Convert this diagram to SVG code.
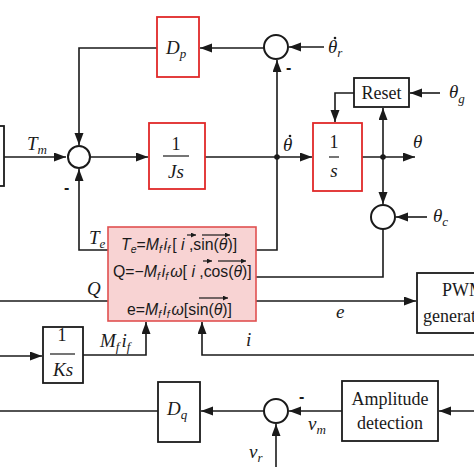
<svg xmlns="http://www.w3.org/2000/svg" width="474" height="474" viewBox="0 0 474 474">
<style>
.ln{fill:none;stroke:#1a1a1a;stroke-width:1.6}
.blk{fill:#fff;stroke:#1a1a1a;stroke-width:1.8}
.red{fill:#fff;stroke:#e02828;stroke-width:1.8}
.sum{fill:#fff;stroke:#1a1a1a;stroke-width:2}
.m{font-family:"Liberation Serif",serif;font-style:italic;font-size:19px;fill:#1a1a1a}
.sub{font-size:13px}
.r{font-family:"Liberation Serif",serif;font-size:18px;fill:#1a1a1a}
.f{font-family:"Liberation Sans",sans-serif;font-size:15.8px;fill:#1a1a1a}
.fi{font-style:italic}
.fs{font-style:italic;font-size:10.5px}
.vec{fill:none;stroke:#1a1a1a;stroke-width:1.2}
.neg{font-family:"Liberation Sans",sans-serif;font-weight:bold;font-size:16px;fill:#1a1a1a}
</style>
<defs>
<marker id="a" markerUnits="userSpaceOnUse" markerWidth="13" markerHeight="10" refX="12" refY="4.5" orient="auto">
<path d="M0,0 L12,4.5 L0,9 z" fill="#1a1a1a"/>
</marker>
<marker id="v" markerUnits="userSpaceOnUse" markerWidth="6" markerHeight="6" refX="5" refY="2.5" orient="auto">
<path d="M0,0 L5,2.5 L0,5 z" fill="#1a1a1a"/>
</marker>
</defs>

<g id="connectors">
<path class="ln" d="M4,157 H66" marker-end="url(#a)"/>
<path class="ln" d="M157,48 H79 V145" marker-end="url(#a)"/>
<path class="ln" d="M108,250 H79 V169" marker-end="url(#a)"/>
<path class="ln" d="M90,157 H148" marker-end="url(#a)"/>
<path class="ln" d="M205,157 H312" marker-end="url(#a)"/>
<path class="ln" d="M256,250 H277 V60" marker-end="url(#a)"/>
<path class="ln" d="M324,47 H289" marker-end="url(#a)"/>
<path class="ln" d="M264,48 H200" marker-end="url(#a)"/>
<path class="ln" d="M354,93 H335 V122" marker-end="url(#a)"/>
<path class="ln" d="M440,93 H410" marker-end="url(#a)"/>
<path class="ln" d="M362,157 H415" marker-end="url(#a)"/>
<path class="ln" d="M383,157 V108" marker-end="url(#a)"/>
<path class="ln" d="M383,157 V204" marker-end="url(#a)"/>
<path class="ln" d="M427,217 H396" marker-end="url(#a)"/>
<path class="ln" d="M383,229 V277 H256"/>
<path class="ln" d="M108,301 H0"/>
<path class="ln" d="M256,301 H416" marker-end="url(#a)"/>
<path class="ln" d="M474,355 H202 V322" marker-end="url(#a)"/>
<path class="ln" d="M0,356 H42" marker-end="url(#a)"/>
<path class="ln" d="M83,355 H146 V322" marker-end="url(#a)"/>
<path class="ln" d="M158,411 H0"/>
<path class="ln" d="M264,411 H201" marker-end="url(#a)"/>
<path class="ln" d="M342,411 H289" marker-end="url(#a)"/>
<path class="ln" d="M474,411 H439" marker-end="url(#a)"/>
<path class="ln" d="M276,467 V424" marker-end="url(#a)"/>
<circle cx="277" cy="157" r="2.8" fill="#1a1a1a"/>
<circle cx="383" cy="157" r="2.8" fill="#1a1a1a"/>
</g>

<g id="left_block"><rect class="blk" x="-50" y="126" width="54" height="60"/></g>

<g id="sum1"><circle class="sum" cx="79" cy="157" r="11"/></g>
<g id="sum2"><circle class="sum" cx="276" cy="47" r="12"/></g>
<g id="sum3"><circle class="sum" cx="383" cy="217" r="12"/></g>
<g id="sum4"><circle class="sum" cx="276" cy="411" r="12"/></g>

<g id="Dp"><rect class="red" x="157" y="17" width="42" height="60"/>
<text class="m" x="166" y="54">D<tspan class="sub" dy="4">p</tspan></text></g>

<g id="Js"><rect class="red" x="149" y="123" width="56" height="66"/>
<text class="r" x="176" y="150" text-anchor="middle">1</text>
<line class="vec" x1="163" y1="156" x2="189" y2="156"/>
<text class="m" x="176" y="178" text-anchor="middle">Js</text></g>

<g id="integ"><rect class="red" x="313" y="123" width="49" height="68"/>
<text class="r" x="334" y="148" text-anchor="middle">1</text>
<line class="vec" x1="329" y1="157" x2="339" y2="157"/>
<text class="m" x="334" y="177" text-anchor="middle">s</text></g>

<g id="reset"><rect class="blk" x="354" y="78" width="55" height="29"/>
<text class="r" x="381.5" y="99" text-anchor="middle">Reset</text></g>

<g id="calc"><rect x="108" y="227" width="148" height="94" fill="#f8d3d3" stroke="#e05050" stroke-width="1.6"/>
<text class="f" x="121" y="250"><tspan class="fi">T</tspan><tspan class="fs" dy="3">e</tspan><tspan dy="-3">=</tspan><tspan class="fi">M</tspan><tspan class="fs" dy="3">f</tspan><tspan class="fi" dx="2" dy="-3">i</tspan><tspan class="fs" dy="3">f</tspan><tspan dx="2" dy="-3">[ </tspan><tspan class="fi">i</tspan><tspan> ,sin(</tspan><tspan class="fi">θ</tspan><tspan>)]</tspan></text>
<path class="vec" d="M187,235 H196" marker-end="url(#v)"/>
<path class="vec" d="M202,235 H230" marker-end="url(#v)"/>
<text class="f" x="113" y="277">Q=−<tspan class="fi">M</tspan><tspan class="fs" dy="3">f</tspan><tspan class="fi" dx="2" dy="-3">i</tspan><tspan class="fs" dy="3">f</tspan><tspan class="fi" dx="2" dy="-3">ω</tspan><tspan>[ </tspan><tspan class="fi">i</tspan><tspan> ,cos(</tspan><tspan class="fi">θ</tspan><tspan>)]</tspan></text>
<path class="vec" d="M203,261 H212" marker-end="url(#v)"/>
<path class="vec" d="M218,261 H246" marker-end="url(#v)"/>
<text class="f" x="127" y="315">e=<tspan class="fi">M</tspan><tspan class="fs" dy="3">f</tspan><tspan class="fi" dx="2" dy="-3">i</tspan><tspan class="fs" dy="3">f</tspan><tspan class="fi" dx="2" dy="-3">ω</tspan><tspan>[sin(</tspan><tspan class="fi">θ</tspan><tspan>)]</tspan></text>
<path class="vec" d="M199,298 H228" marker-end="url(#v)"/>
</g>

<g id="pwm"><rect class="blk" x="417" y="273" width="80" height="60"/>
<text class="r" x="442" y="296">PWM</text>
<text class="r" x="423" y="322">generator</text></g>

<g id="Ks"><rect class="blk" x="43" y="327" width="40" height="56"/>
<text class="r" x="62" y="341" text-anchor="middle">1</text>
<line class="vec" x1="50" y1="354" x2="75" y2="354"/>
<text class="m" x="63" y="376" text-anchor="middle">Ks</text></g>

<g id="Dq"><rect class="blk" x="158" y="382" width="42" height="60"/>
<text class="m" x="167" y="415">D<tspan class="sub" dy="4">q</tspan></text></g>

<g id="amp"><rect class="blk" x="342" y="381" width="96" height="60"/>
<text class="r" x="390" y="405" text-anchor="middle">Amplitude</text>
<text class="r" x="390" y="429" text-anchor="middle">detection</text></g>

<g id="labels">
<text class="m" x="27" y="150">T<tspan class="sub" dy="4">m</tspan></text>
<text class="m" x="89" y="244">T<tspan class="sub" dy="4">e</tspan></text>
<text class="m" x="87" y="295">Q</text>
<text class="m" x="283" y="151">θ</text><circle cx="290" cy="136" r="1.3" fill="#1a1a1a"/>
<text class="m" x="328" y="53">θ<tspan class="sub" dy="4">r</tspan></text><circle cx="335" cy="38" r="1.3" fill="#1a1a1a"/>
<text class="m" x="449" y="98">θ<tspan class="sub" dy="5">g</tspan></text>
<text class="m" x="413" y="148">θ</text>
<text class="m" x="433" y="222">θ<tspan class="sub" dy="4">c</tspan></text>
<text class="m" x="336" y="318">e</text>
<text class="m" x="246" y="346">i</text>
<text class="m" x="100" y="347">M<tspan class="sub" dy="4">f</tspan><tspan dx="2" dy="-4">i</tspan><tspan class="sub" dy="4">f</tspan></text>
<text class="m" x="308" y="430">v<tspan class="sub" dy="4">m</tspan></text>
<text class="m" x="249" y="458">v<tspan class="sub" dy="4">r</tspan></text>
<text class="neg" x="64" y="193">-</text>
<text class="neg" x="286" y="73">-</text>
<text class="neg" x="299" y="402">-</text>
</g>
</svg>
